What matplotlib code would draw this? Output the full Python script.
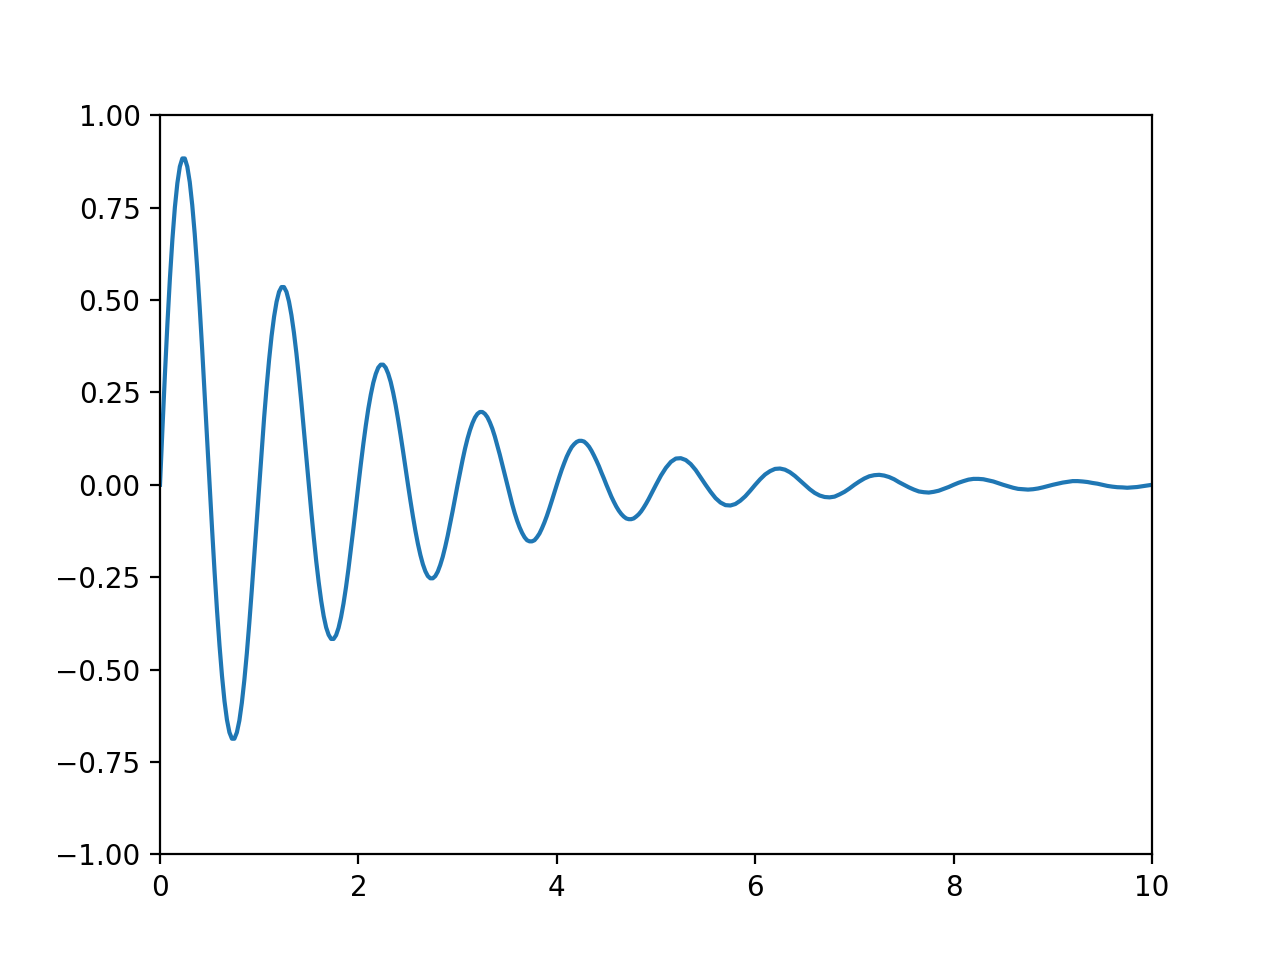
import matplotlib
matplotlib.use("Agg")
import matplotlib.pyplot as plt

# Sample times: fine step 0.025 on [0, 5], coarse step 0.05 on (5, 10]
fine_step, fine_count = 0.025, 201
coarse_step, coarse_count = 0.05, 100
t_fine = [round(i * fine_step, 3) for i in range(fine_count)]
t_coarse = [round(5.0 + (i + 1) * coarse_step, 3) for i in range(coarse_count)]

# Curve values, t = 0 .. 5 (one row per unit of time)
y_fine = [
    0.000, 0.154, 0.301, 0.437, 0.559, 0.664, 0.751, 0.816, 0.861, 0.883,
    0.883, 0.861, 0.819, 0.757, 0.679, 0.586, 0.481, 0.367, 0.247, 0.123,
    0.000, -0.120, -0.235, -0.341, -0.435, -0.517, -0.585, -0.636, -0.670, -0.687,
    -0.687, -0.670, -0.638, -0.590, -0.529, -0.457, -0.375, -0.286, -0.192, -0.096,
    0.000, 0.094, 0.183, 0.265, 0.339, 0.403, 0.455, 0.495, 0.522, 0.535,
    0.535, 0.522, 0.496, 0.459, 0.412, 0.356, 0.292, 0.223, 0.150, 0.075,
    0.000, -0.073, -0.142, -0.207, -0.264, -0.314, -0.355, -0.386, -0.406, -0.417,
    -0.417, -0.407, -0.387, -0.358, -0.321, -0.277, -0.227, -0.173, -0.117, -0.058,
    0.000, 0.057, 0.111, 0.161, 0.206, 0.244, 0.276, 0.300, 0.317, 0.325,
    0.325, 0.317, 0.301, 0.279, 0.250, 0.216, 0.177, 0.135, 0.091, 0.045,
    0.000, -0.044, -0.086, -0.125, -0.160, -0.190, -0.215, -0.234, -0.247, -0.253,
    -0.253, -0.247, -0.235, -0.217, -0.195, -0.168, -0.138, -0.105, -0.071, -0.035,
    0.000, 0.034, 0.067, 0.098, 0.125, 0.148, 0.167, 0.182, 0.192, 0.197,
    0.197, 0.192, 0.183, 0.169, 0.152, 0.131, 0.107, 0.082, 0.055, 0.028,
    0.000, -0.027, -0.052, -0.076, -0.097, -0.115, -0.130, -0.142, -0.150, -0.153,
    -0.153, -0.150, -0.142, -0.132, -0.118, -0.102, -0.084, -0.064, -0.043, -0.021,
    0.000, 0.021, 0.041, 0.059, 0.076, 0.090, 0.102, 0.110, 0.116, 0.119,
    0.119, 0.117, 0.111, 0.103, 0.092, 0.079, 0.065, 0.050, 0.033, 0.017,
    0.000, -0.016, -0.032, -0.046, -0.059, -0.070, -0.079, -0.086, -0.091, -0.093,
    -0.093, -0.091, -0.086, -0.080, -0.072, -0.062, -0.051, -0.039, -0.026, -0.013,
    0.000,
]

# Curve values, t = 5.05 .. 10
y_coarse = [
    0.025, 0.046, 0.062, 0.071, 0.072, 0.067, 0.056, 0.040, 0.020,
    0.000, -0.019, -0.036, -0.048, -0.055, -0.056, -0.052, -0.043, -0.031, -0.016,
    0.000, 0.015, 0.028, 0.037, 0.043, 0.044, 0.041, 0.034, 0.024, 0.012,
    0.000, -0.012, -0.022, -0.029, -0.033, -0.034, -0.032, -0.026, -0.019, -0.010,
    0.000, 0.009, 0.017, 0.023, 0.026, 0.027, 0.025, 0.021, 0.015, 0.007,
    0.000, -0.007, -0.013, -0.018, -0.020, -0.021, -0.019, -0.016, -0.011, -0.006,
    0.000, 0.0055, 0.010, 0.014, 0.016, 0.016, 0.015, 0.012, 0.009, 0.0045,
    0.000, -0.004, -0.008, -0.011, -0.012, -0.013, -0.012, -0.010, -0.007, -0.0035,
    0.000, 0.003, 0.006, 0.008, 0.010, 0.010, 0.009, 0.0075, 0.005, 0.003,
    0.000, -0.003, -0.005, -0.0065, -0.007, -0.008, -0.007, -0.006, -0.004, -0.002,
    0.000,
]

t_values = t_fine + t_coarse
y_values = y_fine + y_coarse

x_limits = (0, 10)
y_limits = (-1, 1)

fig, ax = plt.subplots(figsize=(6.4, 4.8), dpi=200)
ax.plot(t_values, y_values, color="#1f77b4", linewidth=1.5)
ax.set_xlim(*x_limits)
ax.set_ylim(*y_limits)
fig.savefig("out.png", dpi=200)
